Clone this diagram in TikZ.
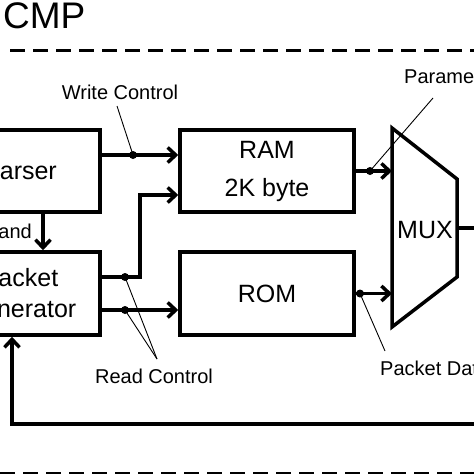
\documentclass[tikz,border=0pt]{standalone}
\usepackage{fontspec}
\setmainfont{Liberation Sans}
\usetikzlibrary{arrows.meta}
\begin{document}
\begin{tikzpicture}[x=1pt,y=-1pt,
  box/.style={draw,line width=3.5pt,inner sep=0pt,align=center,font=\fontsize{25}{30}\selectfont},
  conn/.style={line width=3.5pt},
  arr/.style={-{Straight Barb[length=8pt,width=15pt]}},
  dot/.style={circle,fill,inner sep=0pt,minimum size=8pt},
  leader/.style={line width=0.9pt},
  lbl/.style={inner sep=0pt,font=\fontsize{20}{24}\selectfont},
  sep/.style={line width=3pt,dash pattern=on 15pt off 8pt}]
\useasboundingbox (0,0) rectangle (474,474);
% title and separators
\node[inner sep=0pt,anchor=base west,font=\fontsize{37}{40}\selectfont] (title) at (3,28) {CMP};
\coordinate (s1a) at (10,50); \coordinate (s1b) at (480,50);
\draw[sep] (s1a) -- (s1b);
\coordinate (s2a) at (0,473); \coordinate (s2b) at (480,473);
\draw[sep] (s2a) -- (s2b);
% boxes
\node[box,minimum width=160pt,minimum height=82pt] (parser) at (20,171) {Parser};
\node[box,minimum width=160pt,minimum height=83pt,font=\fontsize{25}{31}\selectfont] (pg) at (20,293.5) {Packet\\Generator};
\node[box,minimum width=174pt,minimum height=82pt,font=\fontsize{25}{38}\selectfont] (ram) at (267,171) {RAM\\2K byte};
\node[box,minimum width=174pt,minimum height=83pt] (rom) at (267,293.5) {ROM};
% MUX
\coordinate (m1) at (392,128); \coordinate (m2) at (457,179);
\coordinate (m3) at (457,277); \coordinate (m4) at (392,327);
\draw[line width=3.5pt] (m1) -- (m2) -- (m3) -- (m4) -- cycle;
\node[inner sep=0pt,font=\fontsize{25}{30}\selectfont] (mux) at (425,230) {MUX};
\coordinate (muxin1) at (392,171);
\coordinate (muxin2) at (392,293.5);
\coordinate (muxout) at (457,228);
\coordinate (out) at (480,228);
% connectors
\draw[conn,arr] ([yshift=16pt]parser.east) -- ([yshift=16pt]ram.west);
\draw[conn,arr] ([xshift=23pt]parser.south) -- ([xshift=23pt]pg.north);
\coordinate (c1) at (140,277); \coordinate (c2) at (140,195);
\draw[conn,arr] ([yshift=16.5pt]pg.east) -- (c1) -- (c2) -- ([yshift=-24pt]ram.west);
\draw[conn,arr] ([yshift=-16.5pt]pg.east) -- ([yshift=-16.5pt]rom.west);
\draw[conn,arr] (ram.east) -- (muxin1);
\draw[conn,arr] (rom.east) -- (muxin2);
\draw[conn] (muxout) -- (out);
\coordinate (fb1) at (480,424); \coordinate (fb2) at (12,424);
\draw[conn,arr] (fb1) -- (fb2) -- ([xshift=-8pt]pg.south);
% junction dots
\node[dot] (wdot) at (133,155) {};
\node[dot] (rdot1) at (125,277) {};
\node[dot] (rdot2) at (125,310) {};
\node[dot] (pdot) at (370,171) {};
\node[dot] (ddot) at (360,293.5) {};
% labels
\node[lbl,anchor=base] (wc) at (120,99) {Write Control};
\node[lbl,anchor=base] (rc) at (154,383) {Read Control};
\node[lbl,anchor=base west] (par) at (404,83) {Parameter};
\node[lbl,anchor=base west] (pd) at (380,375) {Packet Data};
\node[lbl,anchor=base east] (cmd) at (32,238) {Command};
% leaders
\coordinate (wl) at (117,106);
\draw[leader] (wl) -- (wdot.center);
\coordinate (rl) at (157,359);
\draw[leader] (rl) -- (rdot1.center);
\draw[leader] (rl) -- (rdot2.center);
\coordinate (pl) at (433,98);
\draw[leader] (pl) -- (pdot.center);
\coordinate (dl) at (385,351);
\draw[leader] (dl) -- (ddot.center);
\end{tikzpicture}
\end{document}
